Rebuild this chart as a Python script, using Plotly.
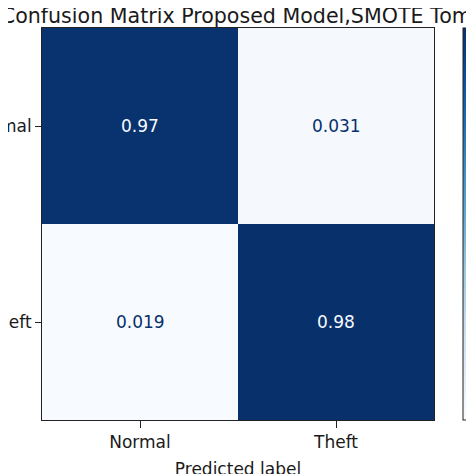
import plotly.graph_objects as go

# confusion matrix values (rows = true label, cols = predicted label)
labels = ["Normal", "Theft"]
matrix = [
    [0.97, 0.031],
    [0.019, 0.98],
]
cell_text = [["0.97", "0.031"], ["0.019", "0.98"]]

title_text = "Confusion Matrix Proposed Model,SMOTE Tomek"

# matplotlib "Blues"
blues = [
    [0.0, "rgb(247,251,255)"],
    [0.125, "rgb(222,235,247)"],
    [0.25, "rgb(198,219,239)"],
    [0.375, "rgb(158,202,225)"],
    [0.5, "rgb(107,174,214)"],
    [0.625, "rgb(66,146,198)"],
    [0.75, "rgb(33,113,181)"],
    [0.875, "rgb(8,81,156)"],
    [1.0, "rgb(8,48,107)"],
]

zmin = min(min(r) for r in matrix)
zmax = max(max(r) for r in matrix)

fig = go.Figure(go.Heatmap(
    z=matrix,
    x=labels,
    y=labels,
    zmin=zmin,
    zmax=zmax,
    colorscale=blues,
    showscale=True,
    colorbar=dict(
        x=1.074, xanchor="left", xref="paper",
        y=0, yanchor="bottom", len=1, lenmode="fraction",
        thickness=22, xpad=0, ypad=0,
        outlinewidth=1, outlinecolor="#222",
        ticks="outside", tickfont=dict(size=17),
    ),
    hoverinfo="skip",
))

# cell annotations, light text on dark cells
mid = (zmin + zmax) / 2
for i, row in enumerate(matrix):
    for j, v in enumerate(row):
        fig.add_annotation(
            x=labels[j], y=labels[i], text=cell_text[i][j],
            showarrow=False,
            font=dict(size=17, color="#f7fbff" if v > mid else "#08306b"),
        )

# page body adds 8px, so margins are set 8px smaller
fig.update_layout(
    width=474, height=474,
    margin=dict(l=34, r=48, t=20, b=62, autoexpand=False),
    paper_bgcolor="white",
    plot_bgcolor="white",
    font=dict(family="DejaVu Sans", size=17, color="#1a1a1a"),
    title=dict(
        text=title_text, x=0.527, xref="paper", xanchor="center",
        y=0.983, yref="container", yanchor="middle",
        font=dict(size=20.6, color="#1a1a1a"),
    ),
)

fig.update_xaxes(
    automargin=False,
    showline=True, mirror=True, linecolor="#222", linewidth=1,
    ticks="outside", ticklen=7, tickcolor="#222",
    title=dict(text="Predicted label", standoff=11, font=dict(size=17)),
    showgrid=False, zeroline=False,
)
fig.update_yaxes(
    automargin=False,
    autorange="reversed",
    showline=True, mirror=True, linecolor="#222", linewidth=1,
    ticks="outside", ticklen=6, tickcolor="#222",
    showgrid=False, zeroline=False,
)

fig.write_html("out.html")
